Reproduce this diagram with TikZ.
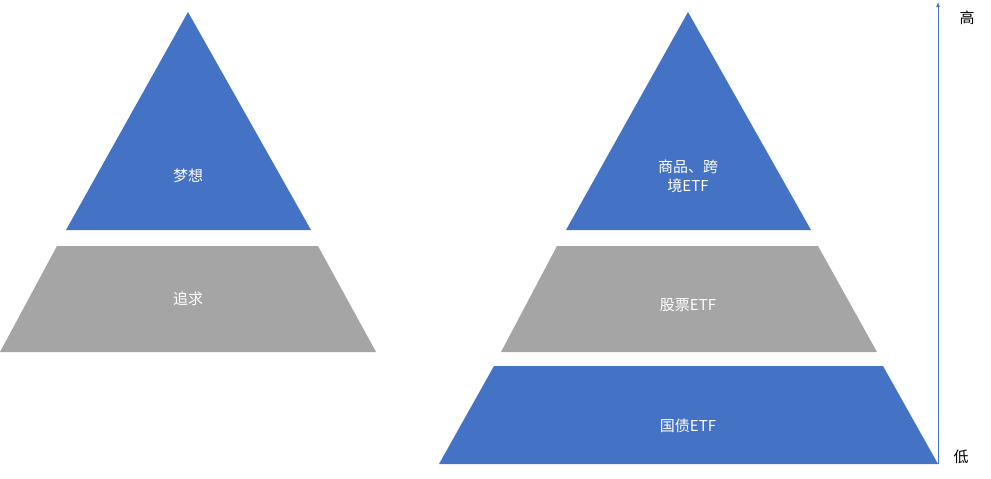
\documentclass[tikz,border=0pt]{standalone}
\usepackage{fontspec}
\setmainfont{Noto Sans CJK SC}
\definecolor{pblue}{HTML}{4472C4}
\definecolor{pgray}{HTML}{A5A5A5}
\begin{document}
\begin{tikzpicture}[x=1pt,y=-1pt]
\tikzset{lbl/.style={text=white,font=\fontsize{15}{19}\selectfont,align=center},
 side/.style={font=\fontsize{15}{19}\selectfont}}
\useasboundingbox (0,0) rectangle (991,479);
\fill[pblue] (188,12) -- (311,230) -- (66,230) -- cycle;
\fill[pgray] (57,246) -- (318,246) -- (376,352) -- (0,352) -- cycle;
\fill[pblue] (688,12) -- (811,230) -- (566,230) -- cycle;
\fill[pgray] (557,246) -- (818,246) -- (877,352) -- (501,352) -- cycle;
\fill[pblue] (494,366) -- (883,366) -- (938,464) -- (439,464) -- cycle;
\node[lbl] (a) at (188,176) {梦想};
\node[lbl] (b) at (188,299) {追求};
\node[lbl] (c) at (688,176) {商品、跨\\境ETF};
\node[lbl] (d) at (688,305) {股票ETF};
\node[lbl] (e) at (688,426) {国债ETF};
\coordinate (lo) at (938,464);
\coordinate (hi) at (938,2);
\draw[pblue,-latex,line width=0.8pt] (lo) -- (hi);
\node[side] (h) at (967,18) {高};
\node[side] (l) at (961,457) {低};
\end{tikzpicture}
\end{document}
